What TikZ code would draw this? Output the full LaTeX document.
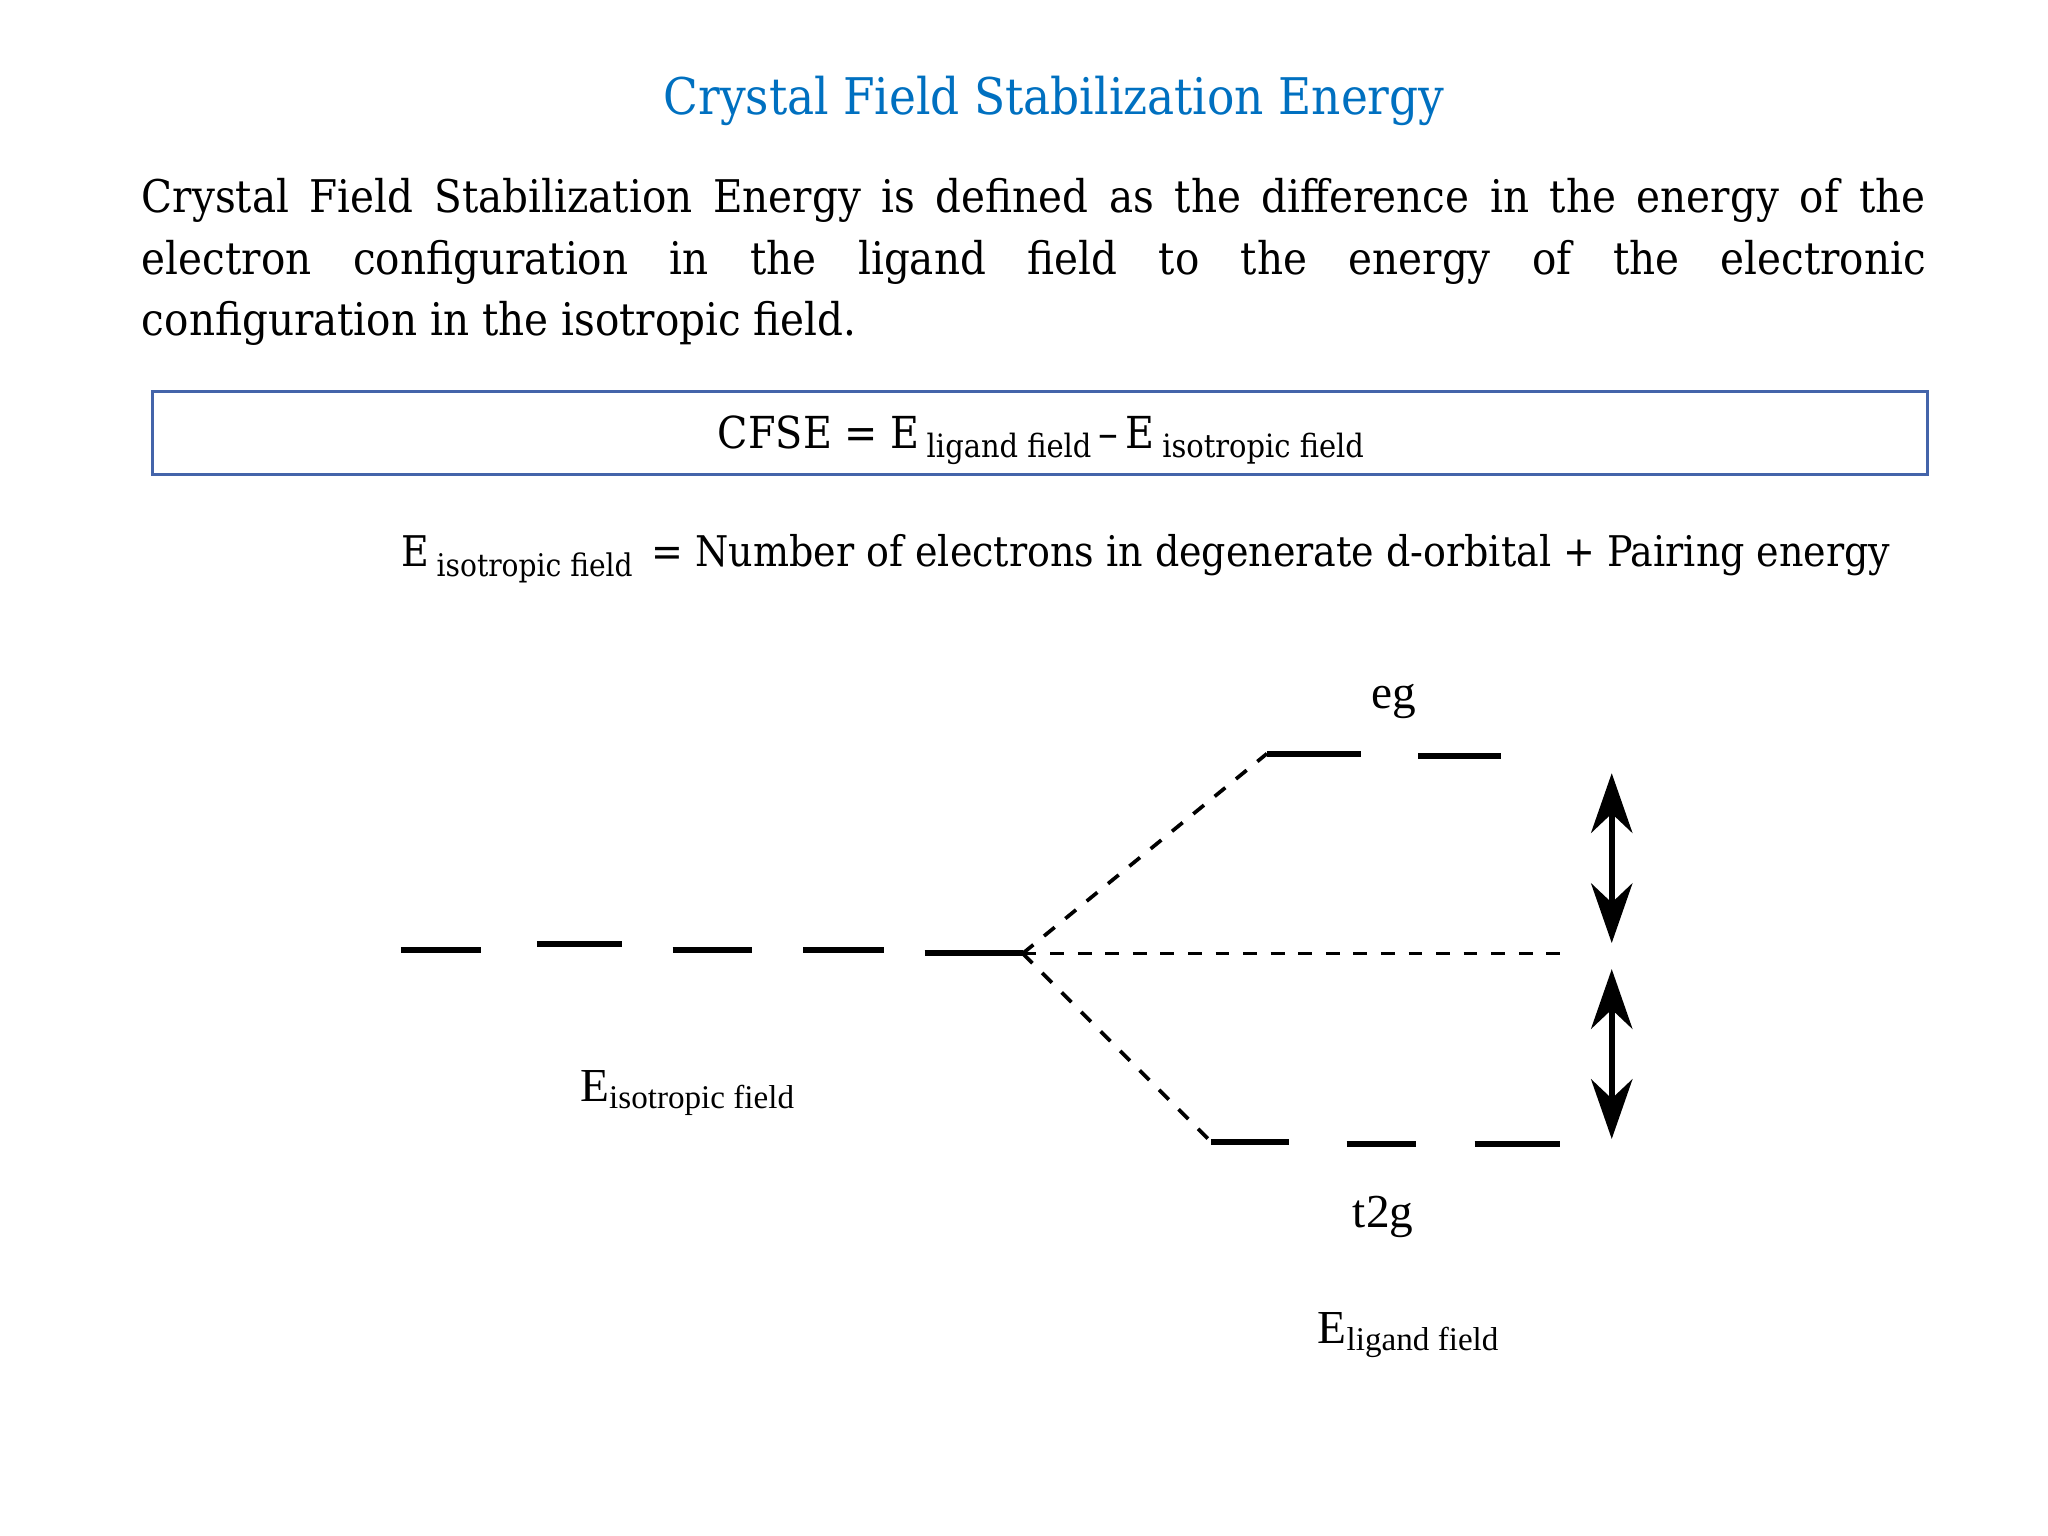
\documentclass[tikz,border=0pt]{standalone}
\usepackage{fontspec}
\setmainfont{Liberation Serif}
\newfontfamily\bodyf{DejaVu Serif Condensed}
\usetikzlibrary{arrows.meta}
\definecolor{titleblue}{RGB}{0,112,192}
\definecolor{boxblue}{RGB}{68,100,170}
\begin{document}
\begin{tikzpicture}[x=0.01cm,y=-0.01cm,
  lvl/.style={line width=1.3pt},
  dot/.style={dashed,dash pattern=on 3pt off 3pt,line width=0.8pt},
  dbl/.style={{Stealth[length=13pt,width=9pt]}-{Stealth[length=13pt,width=9pt]},line width=1.2pt},
  tnr/.style={font=\fontsize{10.3}{12}\selectfont}]
\useasboundingbox (0,0) rectangle (1568,1176);
\node[text=titleblue,font=\bodyf\fontsize{11}{13}\selectfont] (title) at (807,77) {Crystal Field Stabilization Energy};
\node[anchor=north west,inner sep=0pt,font=\bodyf\fontsize{9.8}{13.4}\selectfont] (body) at (108,136)
 {\parbox{13.65cm}{\hyphenpenalty=10000 Crystal Field Stabilization Energy is defined as the difference in the energy of the\linebreak electron configuration in the ligand field to the energy of the electronic\linebreak configuration in the isotropic field.}};
\draw[boxblue,line width=0.7pt] (117,300) rectangle (1476,363);
\node[font=\bodyf\fontsize{9.6}{12}\selectfont] (eq) at (797,337) {CFSE = E\,{\fontsize{7}{8}\selectfont\raisebox{-0.5ex}{ligand field}}\,–\,E\,{\fontsize{7}{8}\selectfont\raisebox{-0.5ex}{isotropic field}}};
\node[anchor=west,inner sep=0pt,font=\bodyf\fontsize{9.2}{12}\selectfont] (iso) at (307,428) {E\,{\fontsize{6.8}{8}\selectfont\raisebox{-0.6ex}{isotropic field}}\, = Number of electrons in degenerate d-orbital + Pairing energy};
% left levels
\coordinate (l1a) at (307,727); \coordinate (l1b) at (368,727);
\coordinate (l2a) at (411,723); \coordinate (l2b) at (476,723);
\coordinate (l3a) at (515,727); \coordinate (l3b) at (576,727);
\coordinate (l4a) at (615,727); \coordinate (l4b) at (677,727);
\coordinate (l5a) at (708,730); \coordinate (c) at (783,730);
\draw[lvl] (l1a)--(l1b); \draw[lvl] (l2a)--(l2b); \draw[lvl] (l3a)--(l3b);
\draw[lvl] (l4a)--(l4b); \draw[lvl] (l5a)--(c);
% eg
\coordinate (e1a) at (970,577); \coordinate (e1b) at (1042,577);
\coordinate (e2a) at (1086,579); \coordinate (e2b) at (1149,579);
\draw[lvl] (e1a)--(e1b); \draw[lvl] (e2a)--(e2b);
% t2g
\coordinate (t1a) at (927,874); \coordinate (t1b) at (987,874);
\coordinate (t2a) at (1031,876); \coordinate (t2b) at (1084,876);
\coordinate (t3a) at (1129,876); \coordinate (t3b) at (1194,876);
\draw[lvl] (t1a)--(t1b); \draw[lvl] (t2a)--(t2b); \draw[lvl] (t3a)--(t3b);
% dotted
\coordinate (mid) at (1197,730);
\draw[dot] (c)--(e1a); \draw[dot] (c)--(mid); \draw[dot] (c)--(t1a);
% arrows
\coordinate (a1) at (1234,592); \coordinate (a2) at (1234,722);
\coordinate (a3) at (1234,742); \coordinate (a4) at (1234,872);
\draw[dbl] (a1)--(a2); \draw[dbl] (a3)--(a4);
% labels
\node[tnr] (eg) at (1067,537) {eg};
\node[tnr] (t2g) at (1059,932) {t2g};
\node[tnr] (eiso) at (527,837) {E\textsubscript{isotropic field}};
\node[tnr] (elig) at (1079,1022) {E\textsubscript{ligand field}};
\end{tikzpicture}
\end{document}
